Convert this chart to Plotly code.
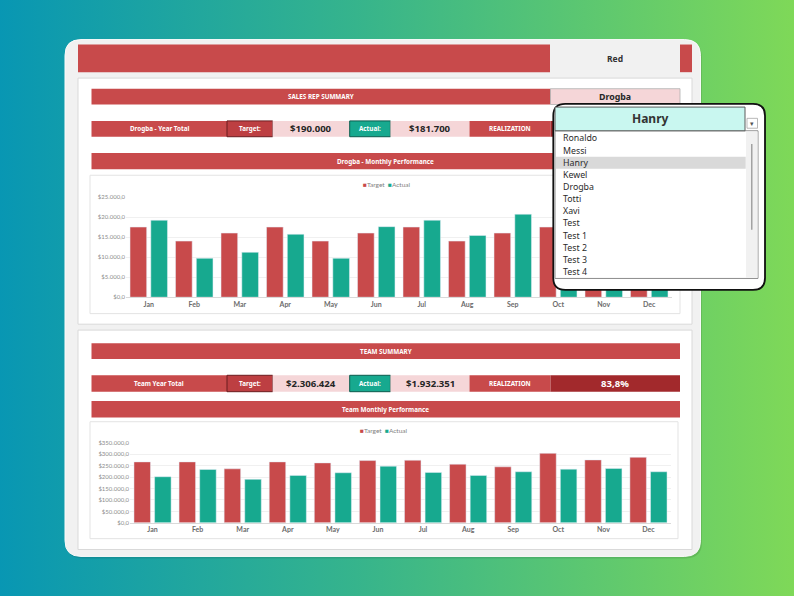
import base64
import plotly.graph_objects as go

# ---------------- data ----------------
months = ["Jan", "Feb", "Mar", "Apr", "May", "Jun", "Jul", "Aug", "Sep", "Oct", "Nov", "Dec"]
series_names = ["Target", "Actual"]
rep_name = "Drogba"
rep_target = [17500, 14000, 16000, 17500, 14000, 16000, 17500, 14000, 16000, 17500, 14000, 16000]
rep_actual = [19200, 9700, 11200, 15700, 9700, 17600, 19200, 15400, 20700, 15800, 13200, 14300]
team_target = [266500, 266500, 236200, 266500, 262100, 272200, 273700, 256400, 244900, 303900, 275100, 286600]
team_actual = [201600, 233300, 190100, 207400, 218900, 247700, 220400, 207400, 223300, 234800, 237700, 223300]
rep_total_target = 190000
rep_total_actual = 181700
team_total_target = 2306424
team_total_actual = 1932351
theme_name = "Red"
dropdown_names = ["Ronaldo", "Messi", "Hanry", "Kewel", "Drogba", "Totti", "Xavi",
                  "Test", "Test 1", "Test 2", "Test 3", "Test 4"]
selected_name = "Hanry"

# ---------------- style ----------------
W, H = 794, 596
RED = "#c84a4b"
TEAL = "#17a98f"
PINK = "#f5d6d8"
DARKRED = "#a2292c"
CELL_FONT = "Noto Sans"
CHART_FONT = "Lato"


def X(px):
    return px / W


def Y(py):
    return 1 - py / H


def money(v):
    return "$" + f"{v:,}".replace(",", ".")


shapes = []
annotations = []


def rect(x0, y0, x1, y1, fill, line=None, lw=0, layer="below"):
    shapes.append(dict(type="rect", xref="paper", yref="paper",
                       x0=X(x0), x1=X(x1), y0=Y(y1), y1=Y(y0),
                       fillcolor=fill, line=dict(color=line or fill, width=lw),
                       layer=layer))


def rrect(x0, y0, x1, y1, r, fill, line=None, lw=0, layer="below"):
    pts = [("M", [(x0 + r, y0)]), ("L", [(x1 - r, y0)]), ("Q", [(x1, y0), (x1, y0 + r)]),
           ("L", [(x1, y1 - r)]), ("Q", [(x1, y1), (x1 - r, y1)]), ("L", [(x0 + r, y1)]),
           ("Q", [(x0, y1), (x0, y1 - r)]), ("L", [(x0, y0 + r)]), ("Q", [(x0, y0), (x0 + r, y0)])]
    path = " ".join(c + " " + " ".join(f"{X(a):.5f},{Y(b):.5f}" for a, b in p) for c, p in pts) + " Z"
    shapes.append(dict(type="path", xref="paper", yref="paper", path=path,
                       fillcolor=fill, line=dict(color=line or fill, width=lw), layer=layer))


def text(cx, cy, s, size=7, color="white", bold=True, family=CELL_FONT, anchor="center"):
    annotations.append(dict(xref="paper", yref="paper", x=X(cx), y=Y(cy),
                            text=f"<b>{s}</b>" if bold else s, showarrow=False,
                            xanchor=anchor, yanchor="middle",
                            font=dict(family=family, size=size, color=color)))


# ---------------- card & panels ----------------
rrect(66, 38, 702, 561, 16, "rgba(0,0,0,0.10)")
rrect(65, 36, 700.5, 559, 16, "#f1f1f1", "#fafafa", 1)
rect(78, 41, 550, 69, RED)
text(615, 55, theme_name, size=8.5, color="#333333")
rect(680, 41, 692, 69, RED)

rect(78, 75, 692, 324, "white", "#d9d9d9", 1)
rect(78, 330, 692, 552, "white", "#d9d9d9", 1)
rect(90, 173.3, 680, 313.3, "white", "#e3e3e3", 1)
rect(90, 422.7, 678, 541, "white", "#e3e3e3", 1)

# rep summary rows
rect(91.5, 85.7, 550.5, 101.7, RED)
text(321, 93.7, "SALES REP SUMMARY", size=6.3)
rect(550.5, 85.7, 680, 101.7, PINK, "#b0b0b0", 0.8)
text(615, 93.7, rep_name, size=8.8, color="#262626")


def total_row(y0, y1, label, tgt, act, real_txt):
    cy = (y0 + y1) / 2
    rect(91.5, y0, 227, y1, RED)
    text(159, cy, label, size=6.3)
    rect(227, y0, 272.6, y1, "#bd3f42", "#6b1c1f", 1)
    text(249.8, cy, "Target:", size=6.3)
    rect(272.6, y0, 349.7, y1, PINK)
    text(311, cy, tgt, size=9.6, color="#262626")
    rect(349.7, y0, 390.4, y1, TEAL, "#0c5a4d", 1)
    text(370, cy, "Actual:", size=6.3)
    rect(390.4, y0, 469.5, y1, PINK)
    text(430, cy, act, size=9.6, color="#262626")
    rect(469.5, y0, 550.5, y1, RED)
    text(510, cy, "REALIZATION", size=6.3)
    rect(550.5, y0, 680, y1, DARKRED)
    if real_txt:
        text(615, cy, real_txt, size=9.6)


total_row(118.3, 134.3, f"{rep_name} - Year Total", money(rep_total_target), money(rep_total_actual), None)
rect(91.5, 150.7, 680, 167.3, RED)
text(385.7, 159, f"{rep_name} - Monthly Performance", size=6.3)

# team rows
rect(91.5, 343.3, 680, 359.3, RED)
text(385.7, 351.3, "TEAM SUMMARY", size=6.3)
real = team_total_actual / team_total_target * 100
total_row(375.7, 392.3, "Team Year Total", money(team_total_target), money(team_total_actual),
          f"{real:.1f}%".replace(".", ","))
rect(91.5, 401.7, 680, 418.3, RED)
text(385.7, 410, "Team Monthly Performance", size=6.3)

# compact chart legends
legend_txt = (f"<span style='color:{RED}'>■</span>{series_names[0]}  "
              f"<span style='color:{TEAL}'>■</span>{series_names[1]}")
text(386, 183, legend_txt, size=6.5, color="#7f7f7f", bold=False, family=CHART_FONT)
text(383, 431.5, legend_txt, size=6.5, color="#7f7f7f", bold=False, family=CHART_FONT)

# ---------------- dropdown overlay ----------------
rrect(553.3, 101, 765, 289.3, 12, "white", "#111111", 1.8, layer="above")
rect(555, 128.3, 758, 277.7, "white", "#8c8c8c", 1, layer="above")
rect(746, 129, 757.5, 277, "#f1f1f1", layer="above")
rect(751.2, 141.7, 752.4, 228.5, "#8f8f8f", layer="above")
rect(555, 104.3, 745, 128.3, "#c9f7f0", "#5a5a5a", 1, layer="above")
rect(747, 115.7, 757.5, 125.7, "white", "#a6a6a6", 0.8, layer="above")
text(752.3, 120.5, "▾", size=7, color="#555555", bold=False)
text(650, 116.3, selected_name, size=12, color="#333333")
item_y0, item_step = 136.0, 12.3
for i, nm in enumerate(dropdown_names):
    cy = item_y0 + i * item_step
    if nm == selected_name:
        rect(556, cy - 6, 745.7, cy + 6, "#d9d9d9", layer="above")
    text(560.5, cy, nm, size=8.8, color="#2b2b2b", bold=False, anchor="left")

# ---------------- charts ----------------
fig = go.Figure()
fig.add_trace(go.Bar(x=months, y=rep_target, name=series_names[0], marker_color=RED,
                     xaxis="x", yaxis="y"))
fig.add_trace(go.Bar(x=months, y=rep_actual, name=series_names[1], marker_color=TEAL,
                     xaxis="x", yaxis="y"))
fig.add_trace(go.Bar(x=months, y=team_target, name=series_names[0], marker_color=RED,
                     xaxis="x2", yaxis="y2"))
fig.add_trace(go.Bar(x=months, y=team_actual, name=series_names[1], marker_color=TEAL,
                     xaxis="x2", yaxis="y2"))

xcommon = dict(showgrid=False, showline=True, linecolor="#d9d9d9", linewidth=1, ticks="",
               fixedrange=True, tickfont=dict(family=CHART_FONT, size=7, color="#6b6b6b", weight="bold"))
ycommon = dict(gridcolor="#f0f0f0", gridwidth=1, zeroline=False, showline=False, ticks="",
               tickformat="$,.1f", fixedrange=True,
               tickfont=dict(family=CHART_FONT, size=6, color="#8c8c8c"))

gradient_svg = (
    '<svg xmlns="http://www.w3.org/2000/svg" width="800" height="600" preserveAspectRatio="none">'
    '<defs><linearGradient id="g" x1="0" y1="0" x2="1" y2="0">'
    '<stop offset="0" stop-color="#0796b4"/><stop offset="0.45" stop-color="#36b48c"/>'
    '<stop offset="1" stop-color="#80d957"/></linearGradient></defs>'
    '<rect width="800" height="600" fill="url(#g)"/></svg>'
)
src = "data:image/svg+xml;base64," + base64.b64encode(gradient_svg.encode()).decode()

fig.update_layout(
    width=W, height=H, autosize=False,
    margin=dict(l=0, r=0, t=0, b=0, pad=0),
    paper_bgcolor="#3cb787", plot_bgcolor="rgba(0,0,0,0)",
    separators=",.",
    barmode="group", bargap=0.085, bargroupgap=0.2,
    showlegend=False,
    xaxis=dict(domain=[X(126), X(672)], anchor="y", **xcommon),
    yaxis=dict(domain=[Y(296.7), Y(195.3)], anchor="x", range=[0, 25000], dtick=5000, **ycommon),
    xaxis2=dict(domain=[X(130), X(671)], anchor="y2", **xcommon),
    yaxis2=dict(domain=[Y(525), Y(444)], anchor="x2", range=[0, 350000], dtick=50000, **ycommon),
    images=[dict(source=src, xref="paper", yref="paper", x=-0.01, y=1.01, sizex=1.02, sizey=1.02,
                 xanchor="left", yanchor="top", sizing="stretch", layer="below")],
    shapes=shapes,
    annotations=annotations,
)

fig.write_html("out.html")
